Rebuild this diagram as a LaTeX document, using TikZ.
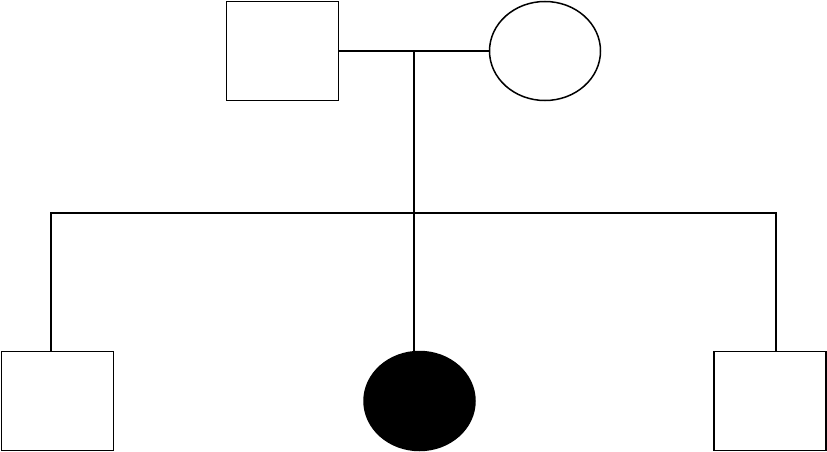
\documentclass[tikz,border=0pt]{standalone}
\usepackage{tikz}
\usetikzlibrary{shapes.geometric}
\tikzset{
  x=1pt, y=-1pt,
}
\tikzstyle{male}=[draw,line width=1.5pt,rectangle,minimum width=112pt,minimum height=99pt,inner sep=0pt]
\tikzstyle{female}=[draw,line width=1.5pt,ellipse,minimum width=111pt,minimum height=99pt,inner sep=0pt]
\tikzstyle{affected}=[fill=black]
\tikzstyle{link}=[draw,line width=1.5pt]

\begin{document}
\begin{tikzpicture}
    \useasboundingbox (0,0) rectangle (827,452);
    \node[male] (father) at (282.5,51) {};
    \node[female] (mother) at (545,51) {};
    \node[male] (son1) at (57.5,401) {};
    \node[female,affected] (daughter) at (419.5,401) {};
    \node[male] (son2) at (770,401) {};
    \coordinate (marriage) at (414,51);
    \coordinate (left) at (51,213);
    \coordinate (right) at (776,213);
    \draw[link] (father.east) -- (mother.west);
    \draw[link] (marriage) -- (marriage |- daughter.north);
    \draw[link] (left |- son1.north) -- (left) -- (right) -- (right |- son2.north);
  \end{tikzpicture}
\end{document}
